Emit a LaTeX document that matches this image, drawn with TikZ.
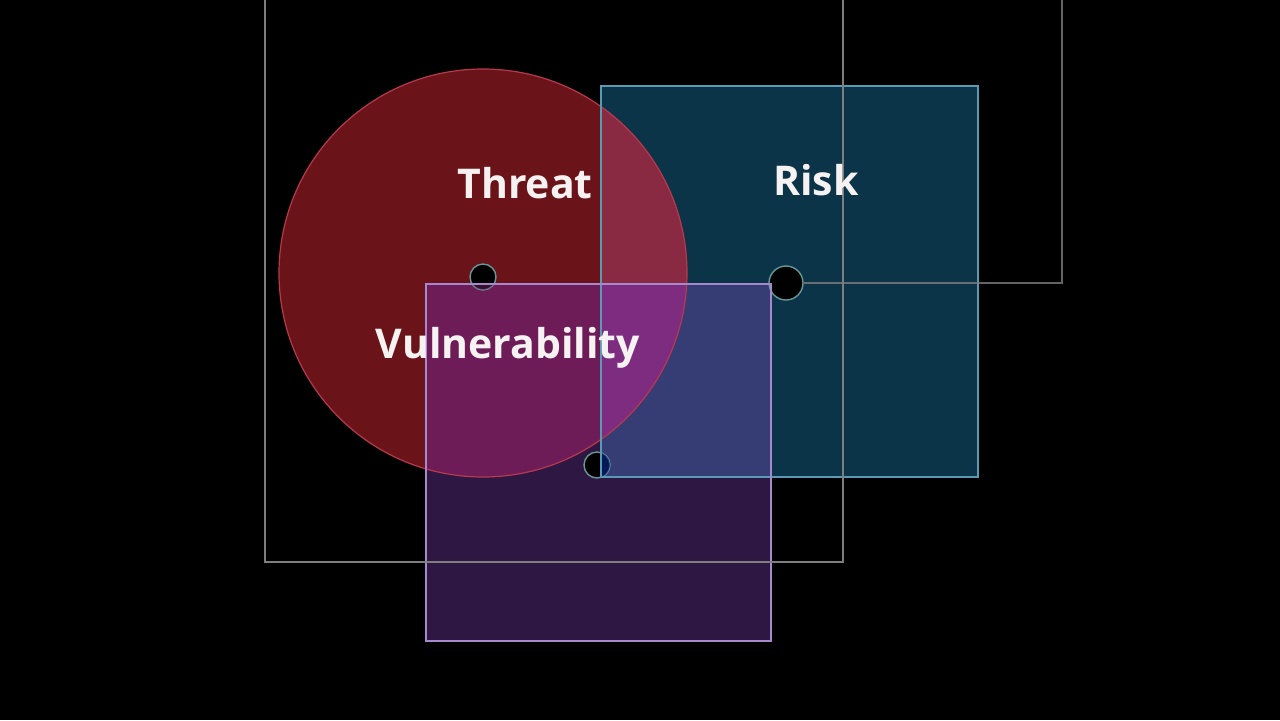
\documentclass[tikz,border=0pt]{standalone}
\usepackage{fontspec}
\setmainfont{Open Sans}
\definecolor{bgc}{HTML}{000000}
\definecolor{cRed}{HTML}{6A141A}
\definecolor{cTeal}{HTML}{0B3448}
\definecolor{cPurple}{HTML}{2F1744}
\definecolor{cRT}{HTML}{8A2A42}
\definecolor{cRP}{HTML}{6E1C58}
\definecolor{cTP}{HTML}{363C74}
\definecolor{cAll}{HTML}{7E2C80}
\definecolor{bRed}{HTML}{B8384E}
\definecolor{bTeal}{HTML}{5A9AB4}
\definecolor{bPurple}{HTML}{A888CC}
\definecolor{gline}{HTML}{7E7E7E}
\definecolor{txt}{HTML}{F6F2F2}
\tikzset{
  outline/.style={draw=gline, line width=0.8pt},
  dot/.style={circle, fill=black, draw=gline!80!cyan, line width=0.7pt, inner sep=0pt},
  lbl/.style={text=txt, font=\fontsize{20.5}{25}\selectfont\bfseries, inner sep=0pt}
}
\begin{document}
\begin{tikzpicture}[x=0.5pt,y=-0.5pt]
\fill[bgc] (0,0) rectangle (1280,720);
\useasboundingbox (0,0) rectangle (1280,720);
\def\circ{(483,273) circle[radius=102pt]}
\def\trect{(601,86) rectangle (978,477)}
\def\prect{(426,284) rectangle (771,641)}
% base fills
\fill[cRed] \circ;
\fill[cTeal] \trect;
\fill[cPurple] \prect;
\begin{scope}
  \clip \circ;
  \fill[cRT] \trect;
  \fill[cRP] \prect;
\end{scope}
\begin{scope}
  \clip \trect;
  \fill[cTP] \prect;
\end{scope}
\begin{scope}
  \clip \circ;
  \clip \trect;
  \fill[cAll] \prect;
\end{scope}
% small marker circles
\node[dot, minimum size=13pt] (m1) at (483,277) {};
\node[dot, minimum size=17pt] (m2) at (786,283) {};
\node[dot, minimum size=13pt] (m3) at (597,465) {};
\begin{scope}
  \clip (m3.center) circle[radius=6.5pt];
  \fill[cTeal!70!blue, opacity=0.7] \trect;
\end{scope}
\begin{scope}
  \clip (m1.center) circle[radius=6.5pt];
  \fill[cRP, opacity=0.5] \prect;
\end{scope}
% borders
\draw[bRed, line width=0.6pt] \circ;
\draw[bTeal, line width=0.8pt] \trect;
\draw[bPurple, line width=0.8pt] \prect;
% gray outlines
\coordinate (a1) at (265,-5);
\coordinate (a2) at (843,562);
\draw[outline] (a1) -- (a1 |- a2) -- (a2) -- (a2 |- a1);
\coordinate (b1) at (1062,-5);
\draw[outline, opacity=0.8] (m2.east) -- (b1 |- m2) -- (b1);
% labels
\node[lbl] (threat) at (525,183) {Threat};
\node[lbl] (risk) at (816,180) {Risk};
\node[lbl] (vuln) at (508,348) {Vulnerability};
\end{tikzpicture}
\end{document}
